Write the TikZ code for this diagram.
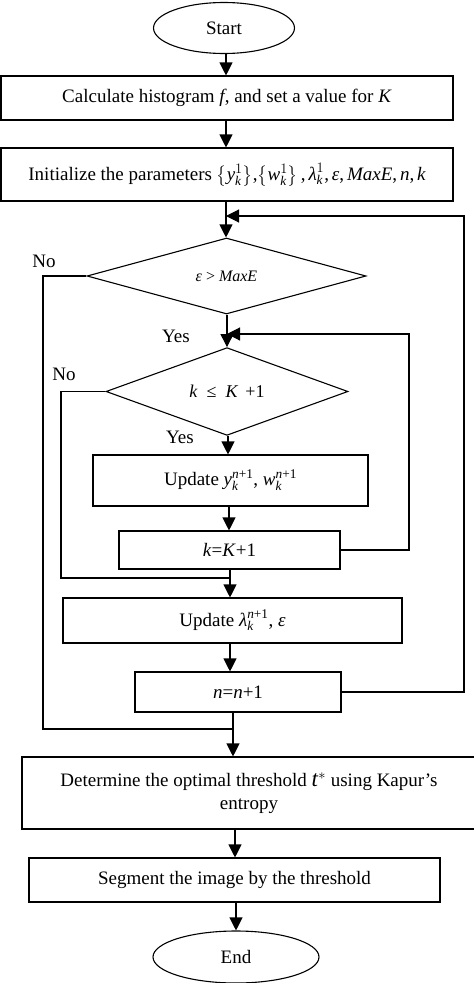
\documentclass[tikz,border=0pt]{standalone}
\usepackage{amsmath}
\usepackage{fontspec}
\setmainfont{Liberation Serif}
\usetikzlibrary{arrows.meta,shapes.geometric}
\newcommand{\vi}[1]{\text{\itshape #1}}
\begin{document}
\begin{tikzpicture}[x=1pt,y=-1pt,
  font=\fontsize{19}{23}\selectfont,
  box/.style={draw, line width=1.1pt, rectangle, inner sep=0pt, align=center},
  term/.style={draw, line width=1.1pt, ellipse, inner sep=0pt},
  decision/.style={draw, line width=1.1pt, diamond, inner sep=0pt},
  arr/.style={line width=1.1pt, -{Triangle[length=13pt,width=13pt]}},
  link/.style={line width=1.1pt},
  lbl/.style={inner sep=0pt}]
\useasboundingbox[fill=white] (0,0) rectangle (474,983);

% columns of the main flow
\coordinate (colA) at (226,0);
\coordinate (colB) at (227,0);
\coordinate (colC) at (228,0);
\coordinate (colD) at (229,0);
\coordinate (colE) at (230,0);
\coordinate (colF) at (233,0);
\coordinate (colG) at (235,0);
\coordinate (colH) at (236,0);

\node[term, minimum width=141pt, minimum height=51pt] (start) at (224,28) {Start};
\node[box, minimum width=452pt, minimum height=44pt] (b1) at (227,98)
  {Calculate histogram \textit{f}, and set a value for \textit{K}};
\node[box, minimum width=452pt, minimum height=53pt] (b2) at (227,174.5)
  {Initialize the parameters $\left\{\vi{y}_{\vi{k}}^{1}\right\}\mathclose{}\text{,}\mathopen{}\left\{\vi{w}_{\vi{k}}^{1}\right\}\text{,}\,\vi{λ}_{\vi{k}}^{1}\text{,}\,\vi{ε}\text{,}\,\vi{MaxE}\text{,}\,\vi{n}\text{,}\,\vi{k}$};
\node[decision, minimum width=279pt, minimum height=76pt] (d1) at (226.5,276)
  {\fontsize{16}{18}\selectfont \textit{ε} \textgreater{} \textit{MaxE}};
\node[decision, minimum width=242pt, minimum height=71pt] (d2) at (227,391.5)
  {\fontsize{18}{20}\selectfont \textit{k}\hspace{0.5em}≤\hspace{0.5em}\textit{K}\hspace{0.4em}+1};
\node[box, minimum width=275pt, minimum height=51pt] (b3) at (230.5,480.5)
  {Update $\vi{y}_{\vi{k}}^{\vi{n}\text{+1}}\text{, }\vi{w}_{\vi{k}}^{\vi{n}\text{+1}}$};
\node[box, minimum width=221pt, minimum height=38pt] (b4) at (229.5,550)
  {\textit{k}=\textit{K}+1};
\node[box, minimum width=339pt, minimum height=45pt] (b5) at (232.5,620.5)
  {Update $\vi{λ}_{\vi{k}}^{\vi{n}\text{+1}}\text{, }\vi{ε}$};
\node[box, minimum width=206pt, minimum height=40pt] (b6) at (238,692)
  {\textit{n}=\textit{n}+1};
\node[box, minimum width=454pt, minimum height=72pt] (b7) at (249,793)
  {Determine the optimal threshold {\fontsize{23}{23}\selectfont\textit{t}}$^{*}$ using Kapur’s\\entropy};
\node[box, minimum width=411pt, minimum height=44pt] (b8) at (234.5,880)
  {Segment the image by the threshold};
\node[term, minimum width=166pt, minimum height=52pt] (end) at (236,957) {End};

\node[lbl] (no1) at (44,261) {No};
\node[lbl] (yes1) at (176,336) {Yes};
\node[lbl] (no2) at (64,374) {No};
\node[lbl] (yes2) at (180,437) {Yes};

% main flow
\draw[arr] (start.south -| colA) -- (b1.north -| colA);
\draw[arr] (b1.south -| colA) -- (b2.north -| colA);
\draw[arr] (b2.south -| colA) -- (d1.north -| colA);
\draw[arr] (d1.south -| colB) -- (d2.north -| colB);
\draw[arr] (d2.south -| colC) -- (b3.north -| colC);
\draw[arr] (b3.south -| colD) -- (b4.north -| colD);
\draw[arr] (b4.south -| colE) -- (b5.north -| colE);
\draw[arr] (b5.south -| colE) -- (b6.north -| colE);
\draw[arr] (b6.south -| colF) -- (b7.north -| colF);
\draw[arr] (b7.south -| colG) -- (b8.north -| colG);
\draw[arr] (b8.south -| colH) -- (end.north -| colH);

% feedback loops
\coordinate (fb1) at (464,216);
\coordinate (fb2) at (409,334);
\draw[arr] (b6.east) -| (fb1) -- (fb1 -| colA);
\draw[arr] (b4.east) -| (fb2) -- (fb2 -| colB);

% "No" branches
\coordinate (n1) at (43,729);
\coordinate (n2) at (61,578);
\draw[link] (d1.west) -| (n1) -- (n1 -| colF);
\draw[link] (d2.west) -| (n2) -- (n2 -| colE);
\end{tikzpicture}
\end{document}
